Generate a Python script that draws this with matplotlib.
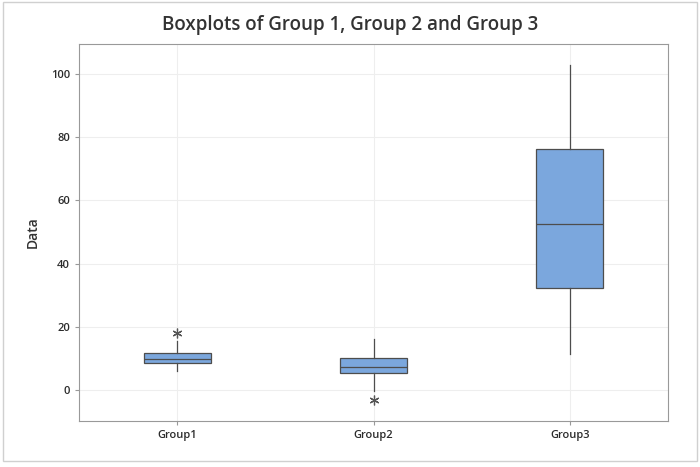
import matplotlib.pyplot as plt
from matplotlib.patches import Rectangle

groups = ["Group1", "Group2", "Group3"]
q1 = [8.6, 5.5, 32.3]
med = [9.7, 7.2, 52.5]
q3 = [11.8, 10.2, 76.3]
whislo = [6.0, -0.3, 11.4]
whishi = [15.6, 16.0, 102.8]
fliers = [[17.9], [-3.2], []]

plt.rcParams['font.family'] = ['Open Sans', 'DejaVu Sans']

stats = []
for i in range(len(groups)):
    stats.append(dict(label=groups[i], q1=q1[i], med=med[i], q3=q3[i],
                      whislo=whislo[i], whishi=whishi[i], fliers=fliers[i]))

fig = plt.figure(figsize=(7, 4.67), dpi=100)
ax = fig.add_axes([79/700, 1-421/467, 589/700, 377/467])
fig.patches.append(Rectangle((3/700, 6/467), 1-6/700, 1-8/467, transform=fig.transFigure,
                             fill=False, edgecolor='#d0d0d0', lw=1))

edge = '#4d4d4d'
ax.bxp(stats, positions=[1, 2, 3], widths=0.34, patch_artist=True, showcaps=False,
       boxprops=dict(facecolor='#7BA7DD', edgecolor=edge, lw=0.9),
       medianprops=dict(color=edge, lw=0.9),
       whiskerprops=dict(color=edge, lw=0.9),
       flierprops=dict(marker=(6, 2, 0), markersize=7, markeredgecolor='#555555', markeredgewidth=0.9))

ax.set_xlim(0.5, 3.5)
ax.set_ylim(-9.8, 109.5)
ax.set_yticks([0, 20, 40, 60, 80, 100])
ax.grid(True, color='#eeeeee', lw=0.8)
ax.set_axisbelow(True)
for s in ax.spines.values():
    s.set_color('#999999')
ax.tick_params(colors='#999999', labelcolor='#2b2b2b', labelsize=8, length=3)
for lab in ax.get_xticklabels() + ax.get_yticklabels():
    lab.set_fontweight('semibold')
ax.set_ylabel("Data", fontsize=10, color='#333333', labelpad=8, fontweight='semibold')
fig.suptitle("Boxplots of Group 1, Group 2 and Group 3", x=0.5, y=1-30/467, va='baseline',
             fontsize=13.5, color='#333333', fontweight='semibold')

fig.savefig("out.png", dpi=100)
